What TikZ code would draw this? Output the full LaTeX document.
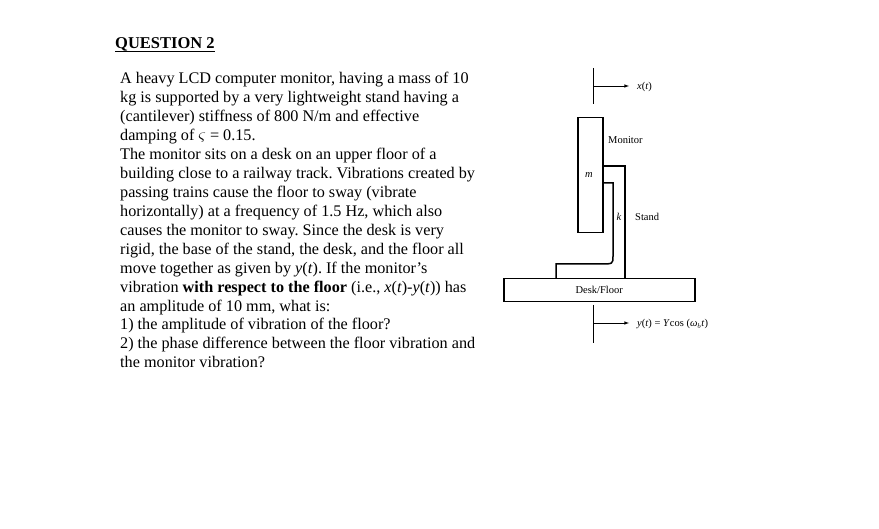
\documentclass[tikz,border=0pt]{standalone}
\usepackage{fontspec}
\setmainfont{Liberation Serif}
\begin{document}
\frenchspacing
\begin{tikzpicture}[x=1pt,y=-1pt,
  body/.style={anchor=north west,align=left,inner sep=0pt,font=\fontsize{16.2}{18.95}\selectfont},
  lab/.style={inner sep=0pt,font=\fontsize{10.5}{12}\selectfont},
  part/.style={draw,line width=1.5pt},
  arr/.style={-latex,line width=0.6pt}]
\useasboundingbox (0,0) rectangle (879,529);
\node[anchor=base west,inner sep=0pt,font=\fontsize{16.5}{18}\selectfont\bfseries] (q) at (115,49) {QUESTION 2};
\draw[line width=0.8pt] ([yshift=-2pt]q.base west) -- ([yshift=-2pt]q.base east);
\node[body] (txt) at (120,72) {A heavy LCD computer monitor, having a mass of 10\\
kg is supported by a very lightweight stand having a\\
(cantilever) stiffness of 800 N/m and effective\\
damping of $\varsigma$ = 0.15.\\
The monitor sits on a desk on an upper floor of a\\
building close to a railway track. Vibrations created by\\
passing trains cause the floor to sway (vibrate\\
horizontally) at a frequency of 1.5 Hz, which also\\
causes the monitor to sway. Since the desk is very\\
rigid, the base of the stand, the desk, and the floor all\\
move together as given by \textit{y}(\textit{t}). If the monitor's\\
vibration \textbf{with respect to the floor} (i.e., \textit{x}(\textit{t})-\textit{y}(\textit{t})) has\\
an amplitude of 10 mm, what is:\\
1) the amplitude of vibration of the floor?\\
2) the phase difference between the floor vibration and\\
the monitor vibration?};
% figure
\node[part,minimum width=191pt,minimum height=23pt,inner sep=0pt,anchor=north west] (desk) at (503,278) {};
\node[lab] (dl) at (desk.center) {Desk/Floor};
\node[part,minimum width=25pt,minimum height=115pt,inner sep=0pt,anchor=north west] (mon) at (577,117) {};
\draw[part] (mon.east |- 0,166) -- (625,166) -- (625,278);
\draw[part] (mon.east |- 0,183) -- (613,183) -- (613,256) .. controls (613,264) .. (600,264) -- (556,264) -- (556,278);
\node[lab,font=\fontsize{10.5}{12}\selectfont\itshape] (m) at (589,175) {m};
\node[lab,font=\fontsize{10.5}{12}\selectfont\itshape] (k) at (619,217) {k};
\node[lab,anchor=west] (st) at (635,217) {Stand};
\node[lab,anchor=west] (ml) at (608,140) {Monitor};
\coordinate (xt) at (593,68); \coordinate (xb) at (593,104);
\coordinate (xa) at (593,86);
\node[lab,anchor=west] (xl) at (637,87) {\textit{x}(\textit{t})};
\draw[line width=0.7pt] (xt) -- (xb);
\draw[arr] (xa) -- (629,86);
\coordinate (yt) at (593,305); \coordinate (yb) at (593,343);
\coordinate (ya) at (593,323);
\node[lab,anchor=west] (yl) at (637,324) {\textit{y}(\textit{t}) = \textit{Y}cos (\textit{ω}$_b$\textit{t})};
\draw[line width=0.7pt] (yt) -- (yb);
\draw[arr] (ya) -- (629,323);
\end{tikzpicture}
\end{document}
